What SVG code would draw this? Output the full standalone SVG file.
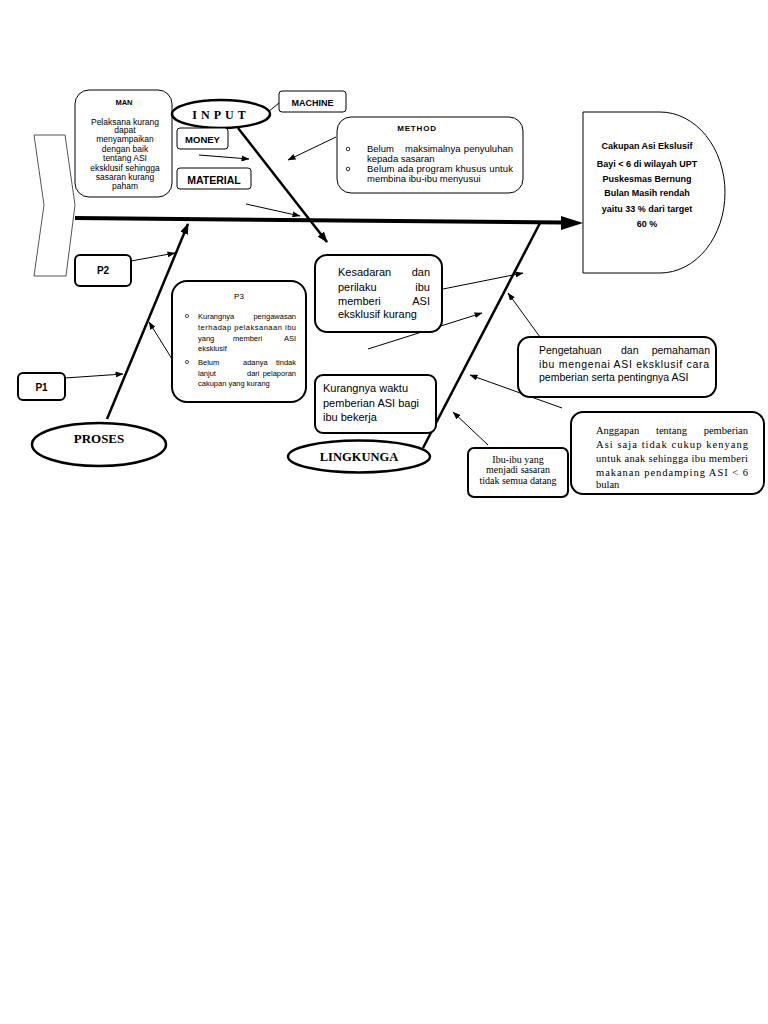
<svg xmlns="http://www.w3.org/2000/svg" width="768" height="1024" viewBox="0 0 768 1024">
<defs>
<style>
.thin{fill:#fff;stroke:#000;stroke-width:1}
.thick{fill:#fff;stroke:#000;stroke-width:2}
.ell{fill:#fff;stroke:#000;stroke-width:2.5}
.con{stroke:#000;stroke-width:1;fill:none}
.bone{stroke:#000;stroke-width:2.5;fill:none}
.sans{font-family:"Liberation Sans",Arial,sans-serif;fill:#000}
.serif{font-family:"Liberation Serif","Times New Roman",serif;fill:#000}
.b{font-weight:bold}
.mid{text-anchor:middle}
.end{text-anchor:end}
</style>
<marker id="ah" markerWidth="8" markerHeight="6" refX="7.5" refY="3" orient="auto" markerUnits="userSpaceOnUse"><path d="M0,0 L8,3 L0,6 Z" fill="#000"/></marker>
<marker id="ahb" markerWidth="11" markerHeight="8" refX="10" refY="4" orient="auto" markerUnits="userSpaceOnUse"><path d="M0,0 L11,4 L0,8 Z" fill="#000"/></marker>
</defs>
<rect width="768" height="1024" fill="#fff"/>

<g id="head-chevron">
<polygon points="34,135 65,135 75,205 66,276 34,276 44,205" fill="#fff" stroke="#555" stroke-width="1"/>
</g>

<g id="connectors">
<line x1="75" y1="218" x2="562" y2="222.6" stroke="#000" stroke-width="4"/>
<polygon points="583,223 561,216 561,230" fill="#000"/>
<line class="bone" x1="238" y1="128" x2="327" y2="242" marker-end="url(#ahb)"/>
<line class="bone" x1="107" y1="419" x2="188" y2="224" marker-end="url(#ahb)"/>
<line class="bone" x1="423" y1="448" x2="540" y2="223"/>
<line class="con" x1="279" y1="103" x2="268" y2="112"/>
<line class="con" x1="199" y1="155" x2="249" y2="159" marker-end="url(#ah)"/>
<line class="con" x1="246" y1="204" x2="300" y2="216" marker-end="url(#ah)"/>
<line class="con" x1="336" y1="137" x2="288" y2="160" marker-end="url(#ah)"/>
<line class="con" x1="131" y1="261" x2="175" y2="253" marker-end="url(#ah)"/>
<line class="con" x1="65" y1="378" x2="123" y2="374" marker-end="url(#ah)"/>
<line class="con" x1="172" y1="359" x2="149" y2="322" marker-end="url(#ah)"/>
<line class="con" x1="443" y1="289" x2="523" y2="273" marker-end="url(#ah)"/>
<line class="con" x1="368" y1="349" x2="482" y2="313" marker-end="url(#ah)"/>
<line class="con" x1="540" y1="337" x2="508" y2="293" marker-end="url(#ah)"/>
<line class="con" x1="562" y1="408" x2="470" y2="375" marker-end="url(#ah)"/>
<line class="con" x1="488" y1="445" x2="453" y2="412" marker-end="url(#ah)"/>
</g>

<g id="man">
<rect class="thin" x="75" y="90" width="97" height="107" rx="14"/>
<text class="sans b mid" x="124" y="105" font-size="7.5">MAN</text>
<g class="sans mid" font-size="8.5">
<text x="125" y="125">Pelaksana kurang</text>
<text x="125" y="133">dapat</text>
<text x="125" y="142">menyampaikan</text>
<text x="125" y="152">dengan baik</text>
<text x="125" y="161">tentang ASI</text>
<text x="125" y="171">eksklusif sehingga</text>
<text x="125" y="180">sasaran kurang</text>
<text x="125" y="189">paham</text>
</g>
</g>

<g id="input">
<ellipse class="ell" cx="221" cy="114" rx="49" ry="14"/>
<text class="serif b mid" x="221" y="118.5" font-size="12" letter-spacing="4">INPUT</text>
</g>

<g id="machine">
<rect class="thin" x="279" y="91" width="67" height="21" rx="3"/>
<text class="sans b mid" x="312.5" y="105.5" font-size="9">MACHINE</text>
</g>

<g id="money">
<rect class="thin" x="177" y="128" width="51" height="21" rx="3"/>
<text class="sans b mid" x="202.5" y="142.5" font-size="9.5">MONEY</text>
</g>

<g id="material">
<rect class="thin" x="177" y="168" width="74" height="21" rx="3"/>
<text class="sans b mid" x="214" y="184" font-size="10.5">MATERIAL</text>
</g>

<g id="method">
<rect class="thin" x="337" y="117" width="186" height="76" rx="14"/>
<text class="sans b mid" x="417" y="131" font-size="8" letter-spacing="0.8">METHOD</text>
<circle cx="348" cy="149" r="1.8" fill="none" stroke="#000" stroke-width="0.8"/>
<circle cx="348" cy="169" r="1.8" fill="none" stroke="#000" stroke-width="0.8"/>
<g class="sans" font-size="9.5">
<text x="367" y="152">Belum</text>
<text x="405" y="152">maksimalnya</text>
<text class="end" x="513" y="152">penyuluhan</text>
<text x="367" y="161.5">kepada sasaran</text>
<text x="367" y="172" textLength="146" lengthAdjust="spacing">Belum ada program khusus untuk</text>
<text x="367" y="182">membina ibu-ibu menyusui</text>
</g>
</g>

<g id="result">
<path class="thin" d="M583,112 H660 A65,80.5 0 0 1 660,273 H583 Z"/>
<g class="sans b mid" font-size="9">
<text x="647" y="148.5">Cakupan Asi  Ekslusif</text>
<text x="647" y="166.5">Bayi &lt; 6  di wilayah UPT</text>
<text x="647" y="181.5">Puskesmas Bernung</text>
<text x="647" y="195.5">Bulan Masih rendah</text>
<text x="647" y="211.5">yaitu 33 %  dari target</text>
<text x="647" y="226.5">60 %</text>
</g>
</g>

<g id="p2">
<rect class="thick" x="75" y="255" width="56" height="31" rx="5"/>
<text class="sans b mid" x="103" y="274" font-size="10">P2</text>
</g>

<g id="p1">
<rect class="thick" x="18" y="373" width="47" height="27" rx="5"/>
<text class="sans b mid" x="41.5" y="390.5" font-size="10">P1</text>
</g>

<g id="p3">
<rect class="thick" x="172" y="281" width="134" height="121" rx="15"/>
<text class="sans mid" x="239" y="299" font-size="8">P3</text>
<circle cx="187" cy="316" r="1.6" fill="none" stroke="#000" stroke-width="0.7"/>
<circle cx="187" cy="362" r="1.6" fill="none" stroke="#000" stroke-width="0.7"/>
<g class="sans" font-size="7.5">
<text x="198" y="319">Kurangnya</text>
<text class="end" x="296" y="319">pengawasan</text>
<text x="198" y="330" textLength="98" lengthAdjust="spacing">terhadap pelaksanaan ibu</text>
<text x="198" y="341">yang</text>
<text x="233" y="341">memberi</text>
<text class="end" x="296" y="341">ASI</text>
<text x="198" y="351">eksklusif</text>
<text x="198" y="365">Belum</text>
<text x="243" y="365">adanya</text>
<text class="end" x="296" y="365">tindak</text>
<text x="198" y="376">lanjut</text>
<text x="247" y="376">dari</text>
<text class="end" x="296" y="376">pelaporan</text>
<text x="198" y="386">cakupan yang kurang</text>
</g>
</g>

<g id="proses">
<ellipse class="ell" cx="99" cy="444.5" rx="67" ry="21.5"/>
<text class="serif b mid" x="99" y="443" font-size="13">PROSES</text>
</g>

<g id="kesadaran">
<rect class="thick" x="315" y="255" width="127" height="77" rx="12"/>
<g class="sans" font-size="11">
<text x="338" y="276">Kesadaran</text>
<text class="end" x="430" y="276">dan</text>
<text x="338" y="291">perilaku</text>
<text class="end" x="430" y="291">ibu</text>
<text x="338" y="304.5">memberi</text>
<text class="end" x="430" y="304.5">ASI</text>
<text x="338" y="318">eksklusif kurang</text>
</g>
</g>

<g id="kurangnya">
<rect class="thick" x="315" y="375" width="121" height="58" rx="8"/>
<g class="sans" font-size="11">
<text x="323" y="392">Kurangnya waktu</text>
<text x="323" y="407">pemberian ASI bagi</text>
<text x="323" y="421">ibu bekerja</text>
</g>
</g>

<g id="lingkungan">
<ellipse class="ell" cx="359" cy="456.5" rx="71" ry="16"/>
<text class="serif b mid" x="359" y="461" font-size="12.5">LINGKUNGA</text>
</g>

<g id="pengetahuan">
<rect class="thick" x="518" y="337" width="198" height="60" rx="12"/>
<g class="sans" font-size="10.5">
<text x="539" y="354">Pengetahuan</text>
<text x="621" y="354">dan</text>
<text class="end" x="710" y="354">pemahaman</text>
<text x="539" y="367.5" textLength="170" lengthAdjust="spacing">ibu mengenai ASI eksklusif cara</text>
<text x="539" y="381">pemberian serta pentingnya ASI</text>
</g>
</g>

<g id="anggapan">
<rect class="thick" x="571" y="412" width="193" height="82" rx="12"/>
<g class="serif" font-size="10.5">
<text x="596" y="434">Anggapan</text>
<text x="656" y="434">tentang</text>
<text class="end" x="748" y="434">pemberian</text>
<text x="596" y="448" textLength="152" lengthAdjust="spacing">Asi saja tidak cukup kenyang</text>
<text x="596" y="462" textLength="152" lengthAdjust="spacing">untuk anak sehingga ibu memberi</text>
<text x="596" y="476" textLength="152" lengthAdjust="spacing">makanan pendamping ASI &lt; 6</text>
<text x="596" y="488">bulan</text>
</g>
</g>

<g id="ibu">
<rect class="thick" x="468" y="448" width="100" height="49" rx="6"/>
<g class="serif mid" font-size="10">
<text x="518" y="463">Ibu-ibu yang</text>
<text x="518" y="473">menjadi sasaran</text>
<text x="518" y="484">tidak semua datang</text>
</g>
</g>
</svg>
